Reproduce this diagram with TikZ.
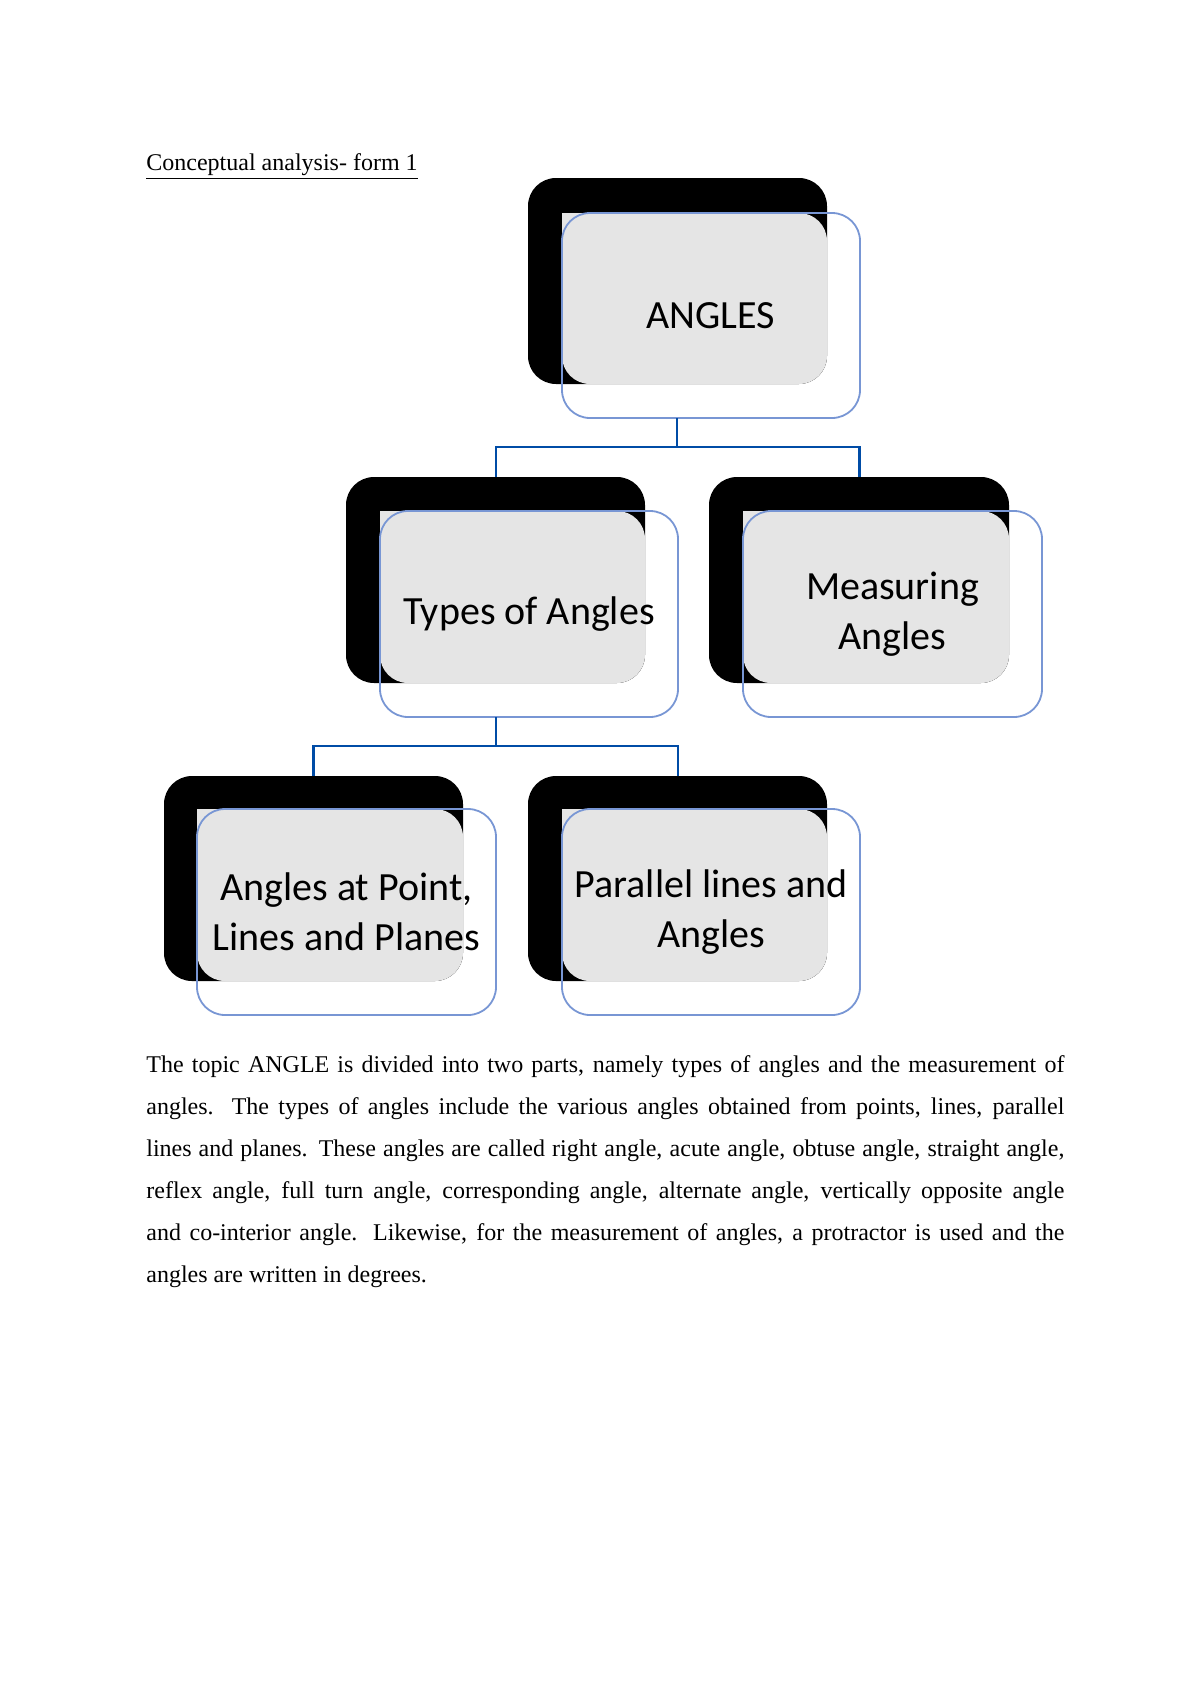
\documentclass[tikz,border=0pt]{standalone}
\usepackage{fontspec}
\setmainfont{Liberation Serif}
\newfontfamily\boxfont{Carlito}
\begin{document}
\begin{tikzpicture}[x=0.5pt,y=-0.5pt,
  conn/.style={draw=blue!50!black!70!cyan,line width=1.3pt},
  lbl/.style={font=\boxfont\fontsize{20}{25}\selectfont,align=center,inner sep=0pt}]
\useasboundingbox (0,0) rectangle (1200,1698);
\newcommand\mybox[9]{%
  % #1 name, #2-#5 black x1 y1 x2 y2, #6-#7 blue x1 y1 (blue x2=#4+33,y2=#5+34), #8 text
  \fill[black,rounded corners=14pt] (#2,#3) rectangle (#4,#5);
  \fill[black!10,rounded corners=14pt] (#6,#7) rectangle (#4,#5);
  \fill[black!10] (#6,#7) rectangle (#4-20,#5-20);
  \draw[draw=cyan!40!blue!55,line width=0.9pt,rounded corners=14pt] (#6,#7) rectangle (#4+33,#5+34);
  \node[lbl] (#1) at ({(#6+#4+33)/2},{(#7+#5+34)/2}) {#8};
  \coordinate (#1top) at ({(#6+#4+33)/2-#9},#3);
}
\mybox{angles}{528}{178}{827}{384}{562}{213}{ANGLES}{33}
\mybox{types}{346}{477}{645}{683}{380}{511}{Types of Angles}{33}
\mybox{meas}{709}{477}{1009}{683}{743}{511}{Measuring\\Angles}{33}
\mybox{point}{164}{776}{463}{981}{197}{809}{Angles at Point,\\Lines and Planes}{33}
\mybox{par}{528}{776}{827}{981}{562}{809}{Parallel lines and\\Angles}{33}
\coordinate (a1) at (677,418); \coordinate (a2) at (677,447);
\coordinate (t1) at (496,717); \coordinate (t2) at (496,746);
\draw[conn] (a1) -- (a2) -| (meastop);
\draw[conn] (a2) -| (typestop);
\draw[conn] (t1) -- (t2) -| (partop);
\draw[conn] (t2) -| (pointtop);
\node[anchor=base west,inner sep=0pt,font=\fontsize{12}{14}\selectfont] (title) at (146,170) {\underline{Conceptual analysis- form 1}};
\node[anchor=north west,inner sep=0pt,text width=459pt,align=justify,font=\fontsize{12}{21}\selectfont] (para) at (146,1055)
{The topic ANGLE is divided into two parts, namely types of angles and the measurement of\linebreak
angles. The types of angles include the various angles obtained from points, lines, parallel\linebreak
lines and planes. These angles are called right angle, acute angle, obtuse angle, straight angle,\linebreak
reflex angle, full turn angle, corresponding angle, alternate angle, vertically opposite angle\linebreak
and co-interior angle. Likewise, for the measurement of angles, a protractor is used and the\linebreak
angles are written in degrees.};
\end{tikzpicture}
\end{document}
